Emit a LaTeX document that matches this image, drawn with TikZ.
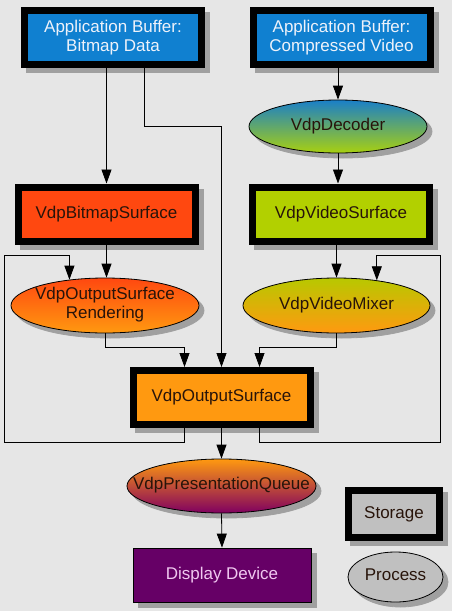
\documentclass[tikz,border=0pt]{standalone}
\usepackage{fontspec}
\setmainfont{Liberation Sans}
\usepackage{tikz}
\usetikzlibrary{calc, arrows.meta, shapes.geometric, shadows}
\definecolor{bg}{RGB}{230, 230, 230}
\definecolor{shade}{RGB}{160, 160, 160}
\definecolor{txtdark}{RGB}{40, 20, 10}
\definecolor{bufblue}{RGB}{16, 128, 208}
\definecolor{bufwhite}{RGB}{238, 242, 250}
\definecolor{decblue}{RGB}{26, 127, 200}
\definecolor{decgreen}{RGB}{168, 208, 16}
\definecolor{bmpred}{RGB}{255, 72, 16}
\definecolor{vidgreen}{RGB}{178, 208, 0}
\definecolor{mixgreen}{RGB}{184, 200, 0}
\definecolor{outorange}{RGB}{255, 153, 16}
\definecolor{quepurple}{RGB}{128, 0, 96}
\definecolor{dispurple}{RGB}{102, 0, 102}
\definecolor{dispink}{RGB}{240, 200, 240}
\definecolor{stogray}{RGB}{192, 192, 192}
\newcommand{\ptext}[1]{\makebox[0pt]{\begin{tabular}{@{}c@{}}#1\end{tabular}}}

\begin{document}
\begin{tikzpicture}[x=1pt, y=-1pt,
    font=\fontsize{17}{19}\selectfont,
    flow/.style={-{Triangle[width=10pt,length=14pt]}, line width=0.8pt},
    shadowed/.style={drop shadow={shadow xshift=5pt, shadow yshift=-5pt, fill=shade, draw=shade, opacity=1}},
    store/.style={rectangle, draw=black, line width=7pt, minimum width=177pt, minimum height=54pt,
      align=center, text=txtdark, shadowed},
    proc/.style={ellipse, draw=black, line width=0.8pt, inner sep=0pt, text=txtdark, shadowed}]
        \fill[bg] (0,0) rectangle (452,611);
        \useasboundingbox (0,0) rectangle (452,611);
        \coordinate (loopl) at (4,255);
        \coordinate (loopr) at (440,255);
        \node[store, fill=bufblue, text=bufwhite] (bufbmp) at (113,37.5) {Application Buffer:\\Bitmap Data};
        \node[store, fill=bufblue, text=bufwhite] (bufvid) at (341.5,37.5) {Application Buffer:\\Compressed Video};
        \node[proc, minimum width=178pt, minimum height=53pt, top color=decblue, bottom color=decgreen] (decoder) at (338,126.5) {\ptext{VdpDecoder}};
        \node[store, fill=bmpred] (bmpsurf) at (106.5,214) {VdpBitmapSurface};
        \node[store, fill=vidgreen] (vidsurf) at (341,214) {VdpVideoSurface};
        \node[proc, minimum width=188pt, minimum height=55pt, top color=bmpred, bottom color=outorange] (osrender) at (105,305.5) {\ptext{VdpOutputSurface\\Rendering}};
        \node[proc, minimum width=187pt, minimum height=55pt, top color=mixgreen, bottom color=outorange] (mixer) at (336.5,305.5) {\ptext{VdpVideoMixer}};
        \node[store, fill=outorange] (outsurf) at (221.5,397.5) {VdpOutputSurface};
        \node[proc, minimum width=189pt, minimum height=54pt, top color=outorange, bottom color=quepurple] (queue) at (221.5,486) {\ptext{VdpPresentationQueue}};
        \node[rectangle, draw=black, line width=0.8pt, fill=dispurple, text=dispink, minimum width=178pt, minimum height=54pt, shadowed] (display) at (222,575) {Display Device};
        \node[store, fill=stogray, minimum width=91pt, minimum height=47pt] (storage) at (394,514) {Storage};
        \node[proc, fill=stogray, minimum width=95pt, minimum height=50pt] (process) at (395.5,577) {\ptext{Process}};
        \draw[flow] (bufbmp.south -| bmpsurf.north) -- (bmpsurf.north);
        \draw[flow] ([xshift=31pt]bufbmp.south) -- ++(0,58) -| (outsurf.north);
        \draw[flow] (bufvid.south -| decoder.north) -- (decoder.north);
        \draw[flow] (decoder.south) -- (decoder.south |- vidsurf.north);
        \draw[flow] (bmpsurf.south) -- (bmpsurf.south |- osrender.north);
        \draw[flow] (mixer.north |- vidsurf.south) -- (mixer.north);
        \draw[flow] (osrender.south) -- ++(0,14) -| ([xshift=-37pt]outsurf.north);
        \draw[flow] (mixer.south) -- ++(0,14) -| ([xshift=38pt]outsurf.north);
        \draw[flow] ([xshift=-37pt]outsurf.south) -- ++(0,14) -| (loopl) -| (osrender.144);
        \draw[flow] ([xshift=38pt]outsurf.south) -- ++(0,14) -| (loopr) -| (mixer.32);
        \draw[flow] (outsurf.south) -- (queue.north);
        \draw[flow] (queue.south) -- (display.north);
      \end{tikzpicture}
\end{document}
